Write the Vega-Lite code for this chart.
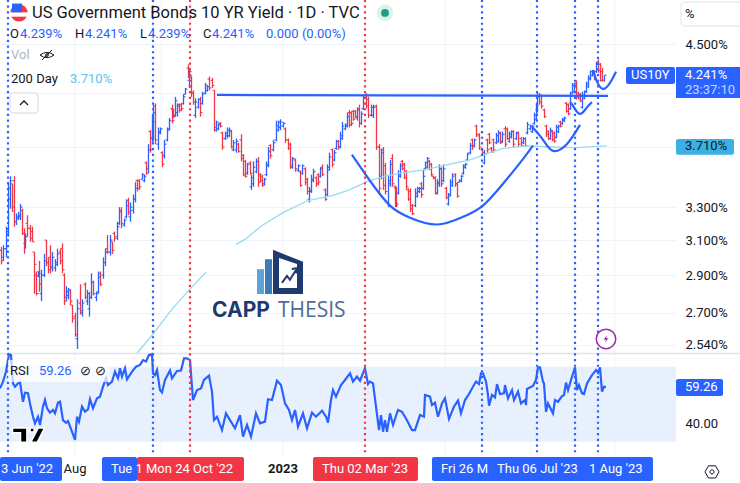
{
"$schema":"https://vega.github.io/schema/vega-lite/v6.json",
"description":"US Government Bonds 10 YR Yield daily bars with 200 day average and RSI",
"width":676,"height":483,"autosize":"none","padding":{"left":0,"top":0,"right":64,"bottom":0},"background":"white",
"config":{"view":{"stroke":null},"font":"Roboto"},
"encoding":{"x":{"field":"b","type":"quantitative","scale":{"domain":[0,676],"nice":false,"zero":false},"axis":null}},
"datasets":{
"bars":[
{"b":1,"o":3.04,"h":3.06,"l":2.96,"c":2.98},{"b":3,"o":3.0,"h":3.07,"l":2.98,"c":3.05},{"b":6,"o":3.05,"h":3.18,"l":3.0,"c":3.15},{"b":8,"o":3.15,"h":3.46,"l":3.12,"c":3.42},{"b":10,"o":3.35,"h":3.5,"l":3.29,"c":3.47},{"b":12,"o":3.45,"h":3.45,"l":3.27,"c":3.3},{"b":14,"o":3.47,"h":3.5,"l":3.18,"c":3.21},{"b":16,"o":3.21,"h":3.26,"l":3.19,"c":3.24},{"b":18,"o":3.23,"h":3.27,"l":3.22,"c":3.25},{"b":20,"o":3.24,"h":3.32,"l":3.22,"c":3.3},{"b":22,"o":3.28,"h":3.29,"l":3.13,"c":3.14},{"b":24,"o":3.14,"h":3.17,"l":3.02,"c":3.1},{"b":25,"o":3.08,"h":3.14,"l":3.05,"c":3.12},{"b":27,"o":3.2,"h":3.25,"l":3.12,"c":3.17},{"b":30,"o":3.17,"h":3.19,"l":3.09,"c":3.11},{"b":32,"o":3.15,"h":3.18,"l":3.09,"c":3.09},{"b":34,"o":3.03,"h":3.03,"l":2.8,"c":2.96},{"b":36,"o":2.9,"h":2.92,"l":2.79,"c":2.8},{"b":38,"o":2.895,"h":2.92,"l":2.89,"c":2.91},{"b":39,"o":2.92,"h":2.98,"l":2.81,"c":2.85},{"b":41,"o":2.8,"h":2.93,"l":2.76,"c":2.9},{"b":44,"o":2.9,"h":3.02,"l":2.89,"c":2.98},{"b":46,"o":3.1,"h":3.1,"l":2.95,"c":2.97},{"b":48,"o":2.97,"h":3.0,"l":2.91,"c":2.93},{"b":50,"o":3.0,"h":3.07,"l":2.91,"c":2.94},{"b":52,"o":2.95,"h":3.03,"l":2.92,"c":3.0},{"b":55,"o":2.94,"h":2.99,"l":2.92,"c":2.96},{"b":57,"o":2.97,"h":3.05,"l":2.95,"c":3.02},{"b":60,"o":3.03,"h":3.05,"l":2.96,"c":2.98},{"b":62,"o":3.05,"h":3.08,"l":2.91,"c":2.93},{"b":64,"o":2.9,"h":2.91,"l":2.74,"c":2.76},{"b":66,"o":2.78,"h":2.84,"l":2.76,"c":2.81},{"b":68,"o":2.79,"h":2.83,"l":2.77,"c":2.82},{"b":70,"o":2.82,"h":2.82,"l":2.74,"c":2.76},{"b":72,"o":2.74,"h":2.74,"l":2.65,"c":2.67},{"b":75,"o":2.68,"h":2.7,"l":2.58,"c":2.59},{"b":77,"o":2.57,"h":2.77,"l":2.52,"c":2.72},{"b":80,"o":2.75,"h":2.85,"l":2.69,"c":2.71},{"b":82,"o":2.7,"h":2.77,"l":2.68,"c":2.75},{"b":85,"o":2.85,"h":2.86,"l":2.77,"c":2.78},{"b":87,"o":2.76,"h":2.82,"l":2.74,"c":2.8},{"b":89,"o":2.72,"h":2.81,"l":2.68,"c":2.78},{"b":91,"o":2.78,"h":2.91,"l":2.77,"c":2.86},{"b":93,"o":2.86,"h":2.87,"l":2.79,"c":2.8},{"b":96,"o":2.78,"h":2.81,"l":2.76,"c":2.8},{"b":98,"o":2.81,"h":2.92,"l":2.8,"c":2.89},{"b":100,"o":2.91,"h":2.92,"l":2.84,"c":2.85},{"b":103,"o":2.9,"h":3.0,"l":2.88,"c":2.97},{"b":105,"o":2.97,"h":3.05,"l":2.95,"c":3.03},{"b":107,"o":3.05,"h":3.13,"l":3.02,"c":3.03},{"b":110,"o":3.03,"h":3.13,"l":3.01,"c":3.1},{"b":112,"o":3.09,"h":3.09,"l":3.02,"c":3.04},{"b":114,"o":3.14,"h":3.15,"l":3.09,"c":3.11},{"b":117,"o":3.12,"h":3.21,"l":3.1,"c":3.18},{"b":119,"o":3.2,"h":3.3,"l":3.19,"c":3.27},{"b":121,"o":3.28,"h":3.3,"l":3.17,"c":3.2},{"b":124,"o":3.19,"h":3.23,"l":3.18,"c":3.22},{"b":126,"o":3.24,"h":3.35,"l":3.23,"c":3.31},{"b":128,"o":3.34,"h":3.36,"l":3.25,"c":3.27},{"b":130,"o":3.24,"h":3.33,"l":3.21,"c":3.3},{"b":133,"o":3.28,"h":3.38,"l":3.26,"c":3.35},{"b":135,"o":3.35,"h":3.46,"l":3.33,"c":3.42},{"b":137,"o":3.47,"h":3.48,"l":3.4,"c":3.42},{"b":139,"o":3.47,"h":3.48,"l":3.41,"c":3.43},{"b":142,"o":3.48,"h":3.52,"l":3.48,"c":3.51},{"b":144,"o":3.47,"h":3.51,"l":3.46,"c":3.5},{"b":146,"o":3.59,"h":3.6,"l":3.51,"c":3.52},{"b":148,"o":3.55,"h":3.72,"l":3.52,"c":3.68},{"b":150,"o":3.81,"h":3.82,"l":3.66,"c":3.68},{"b":152,"o":3.76,"h":3.93,"l":3.73,"c":3.88},{"b":153,"o":3.77,"h":4.01,"l":3.74,"c":3.95},{"b":155,"o":4.0,"h":4.02,"l":3.72,"c":3.75},{"b":158,"o":3.72,"h":3.84,"l":3.68,"c":3.81},{"b":160,"o":3.8,"h":3.84,"l":3.79,"c":3.83},{"b":162,"o":3.66,"h":3.67,"l":3.56,"c":3.58},{"b":164,"o":3.64,"h":3.75,"l":3.62,"c":3.72},{"b":167,"o":3.75,"h":3.84,"l":3.74,"c":3.82},{"b":169,"o":3.83,"h":3.91,"l":3.82,"c":3.89},{"b":172,"o":3.98,"h":4.01,"l":3.87,"c":3.89},{"b":173,"o":3.97,"h":3.98,"l":3.91,"c":3.92},{"b":175,"o":3.93,"h":4.07,"l":3.92,"c":4.04},{"b":177,"o":3.95,"h":4.02,"l":3.92,"c":4.0},{"b":179,"o":4.01,"h":4.02,"l":3.95,"c":3.97},{"b":181,"o":4.01,"h":4.02,"l":3.96,"c":3.98},{"b":183,"o":4.02,"h":4.09,"l":4.01,"c":4.07},{"b":185,"o":4.09,"h":4.14,"l":4.09,"c":4.13},{"b":188,"o":4.3,"h":4.33,"l":4.22,"c":4.25},{"b":189,"o":4.2,"h":4.3,"l":4.14,"c":4.27},{"b":191,"o":4.22,"h":4.24,"l":4.07,"c":4.1},{"b":193,"o":4.1,"h":4.12,"l":4.01,"c":4.03},{"b":195,"o":3.93,"h":4.06,"l":3.91,"c":4.03},{"b":198,"o":3.99,"h":4.06,"l":3.98,"c":4.05},{"b":200,"o":4.05,"h":4.07,"l":3.92,"c":3.95},{"b":202,"o":4.02,"h":4.11,"l":4.01,"c":4.09},{"b":205,"o":4.1,"h":4.18,"l":4.09,"c":4.16},{"b":207,"o":4.12,"h":4.16,"l":4.11,"c":4.15},{"b":209,"o":4.21,"h":4.23,"l":4.12,"c":4.14},{"b":212,"o":4.2,"h":4.22,"l":4.14,"c":4.16},{"b":214,"o":4.12,"h":4.12,"l":3.81,"c":3.84},{"b":216,"o":3.82,"h":3.89,"l":3.81,"c":3.88},{"b":218,"o":3.83,"h":3.87,"l":3.82,"c":3.86},{"b":220,"o":3.87,"h":3.88,"l":3.84,"c":3.85},{"b":222,"o":3.8,"h":3.81,"l":3.68,"c":3.7},{"b":225,"o":3.76,"h":3.81,"l":3.75,"c":3.8},{"b":227,"o":3.78,"h":3.84,"l":3.76,"c":3.82},{"b":229,"o":3.78,"h":3.84,"l":3.77,"c":3.82},{"b":231,"o":3.81,"h":3.82,"l":3.69,"c":3.7},{"b":233,"o":3.68,"h":3.75,"l":3.67,"c":3.73},{"b":236,"o":3.68,"h":3.76,"l":3.66,"c":3.74},{"b":238,"o":3.72,"h":3.73,"l":3.66,"c":3.67},{"b":241,"o":3.75,"h":3.79,"l":3.6,"c":3.62},{"b":243,"o":3.64,"h":3.65,"l":3.5,"c":3.51},{"b":245,"o":3.6,"h":3.61,"l":3.49,"c":3.5},{"b":247,"o":3.52,"h":3.59,"l":3.51,"c":3.58},{"b":250,"o":3.59,"h":3.6,"l":3.51,"c":3.52},{"b":251,"o":3.43,"h":3.51,"l":3.41,"c":3.49},{"b":253,"o":3.45,"h":3.6,"l":3.43,"c":3.56},{"b":256,"o":3.53,"h":3.62,"l":3.52,"c":3.6},{"b":258,"o":3.6,"h":3.63,"l":3.43,"c":3.46},{"b":260,"o":3.51,"h":3.52,"l":3.46,"c":3.47},{"b":262,"o":3.5,"h":3.51,"l":3.43,"c":3.44},{"b":264,"o":3.45,"h":3.49,"l":3.44,"c":3.48},{"b":266,"o":3.51,"h":3.6,"l":3.5,"c":3.58},{"b":268,"o":3.57,"h":3.7,"l":3.56,"c":3.67},{"b":270,"o":3.71,"h":3.72,"l":3.62,"c":3.64},{"b":273,"o":3.68,"h":3.75,"l":3.67,"c":3.73},{"b":276,"o":3.75,"h":3.89,"l":3.74,"c":3.85},{"b":278,"o":3.82,"h":3.89,"l":3.81,"c":3.88},{"b":280,"o":3.84,"h":3.9,"l":3.82,"c":3.88},{"b":283,"o":3.85,"h":3.88,"l":3.84,"c":3.87},{"b":285,"o":3.83,"h":3.84,"l":3.73,"c":3.75},{"b":288,"o":3.75,"h":3.76,"l":3.68,"c":3.69},{"b":290,"o":3.72,"h":3.73,"l":3.55,"c":3.57},{"b":292,"o":3.56,"h":3.63,"l":3.55,"c":3.62},{"b":295,"o":3.61,"h":3.62,"l":3.53,"c":3.55},{"b":298,"o":3.54,"h":3.58,"l":3.53,"c":3.57},{"b":300,"o":3.53,"h":3.54,"l":3.43,"c":3.44},{"b":302,"o":3.52,"h":3.58,"l":3.51,"c":3.57},{"b":305,"o":3.55,"h":3.56,"l":3.44,"c":3.46},{"b":307,"o":3.48,"h":3.49,"l":3.38,"c":3.4},{"b":309,"o":3.35,"h":3.43,"l":3.33,"c":3.41},{"b":311,"o":3.4,"h":3.51,"l":3.39,"c":3.48},{"b":313,"o":3.47,"h":3.55,"l":3.46,"c":3.53},{"b":316,"o":3.49,"h":3.5,"l":3.43,"c":3.45},{"b":318,"o":3.51,"h":3.52,"l":3.44,"c":3.46},{"b":320,"o":3.5,"h":3.56,"l":3.49,"c":3.55},{"b":322,"o":3.56,"h":3.58,"l":3.5,"c":3.51},{"b":325,"o":3.41,"h":3.42,"l":3.34,"c":3.35},{"b":327,"o":3.38,"h":3.58,"l":3.37,"c":3.54},{"b":329,"o":3.56,"h":3.66,"l":3.54,"c":3.63},{"b":332,"o":3.68,"h":3.69,"l":3.56,"c":3.58},{"b":334,"o":3.61,"h":3.68,"l":3.6,"c":3.66},{"b":336,"o":3.69,"h":3.75,"l":3.68,"c":3.74},{"b":338,"o":3.74,"h":3.75,"l":3.68,"c":3.7},{"b":340,"o":3.7,"h":3.81,"l":3.69,"c":3.78},{"b":342,"o":3.76,"h":3.88,"l":3.75,"c":3.85},{"b":345,"o":3.83,"h":3.87,"l":3.82,"c":3.86},{"b":347,"o":3.85,"h":3.95,"l":3.84,"c":3.92},{"b":349,"o":3.95,"h":3.97,"l":3.84,"c":3.86},{"b":351,"o":3.95,"h":3.96,"l":3.85,"c":3.87},{"b":353,"o":3.96,"h":3.97,"l":3.89,"c":3.9},{"b":355,"o":3.96,"h":3.97,"l":3.91,"c":3.92},{"b":357,"o":3.91,"h":3.99,"l":3.89,"c":3.97},{"b":359,"o":3.98,"h":4.01,"l":3.84,"c":3.87},{"b":361,"o":3.87,"h":3.96,"l":3.86,"c":3.94},{"b":363,"o":3.98,"h":4.09,"l":3.97,"c":4.06},{"b":366,"o":4.08,"h":4.1,"l":3.98,"c":4.0},{"b":368,"o":4.05,"h":4.07,"l":3.91,"c":3.93},{"b":371,"o":3.93,"h":4.01,"l":3.92,"c":3.99},{"b":373,"o":3.93,"h":4.01,"l":3.91,"c":3.99},{"b":376,"o":4.0,"h":4.01,"l":3.68,"c":3.7},{"b":379,"o":3.7,"h":3.72,"l":3.39,"c":3.42},{"b":381,"o":3.5,"h":3.69,"l":3.48,"c":3.66},{"b":383,"o":3.68,"h":3.7,"l":3.41,"c":3.44},{"b":385,"o":3.57,"h":3.59,"l":3.38,"c":3.4},{"b":388,"o":3.33,"h":3.51,"l":3.3,"c":3.47},{"b":390,"o":3.45,"h":3.61,"l":3.43,"c":3.58},{"b":392,"o":3.62,"h":3.65,"l":3.43,"c":3.45},{"b":395,"o":3.43,"h":3.44,"l":3.3,"c":3.31},{"b":396,"o":3.42,"h":3.43,"l":3.3,"c":3.32},{"b":398,"o":3.39,"h":3.54,"l":3.38,"c":3.51},{"b":400,"o":3.5,"h":3.59,"l":3.49,"c":3.57},{"b":402,"o":3.6,"h":3.61,"l":3.54,"c":3.55},{"b":404,"o":3.58,"h":3.59,"l":3.48,"c":3.49},{"b":406,"o":3.53,"h":3.54,"l":3.41,"c":3.43},{"b":408,"o":3.41,"h":3.42,"l":3.34,"c":3.35},{"b":410,"o":3.4,"h":3.42,"l":3.27,"c":3.29},{"b":412,"o":3.31,"h":3.32,"l":3.25,"c":3.26},{"b":415,"o":3.31,"h":3.42,"l":3.3,"c":3.39},{"b":417,"o":3.37,"h":3.43,"l":3.36,"c":3.42},{"b":419,"o":3.4,"h":3.43,"l":3.39,"c":3.42},{"b":421,"o":3.45,"h":3.46,"l":3.36,"c":3.38},{"b":423,"o":3.42,"h":3.54,"l":3.41,"c":3.5},{"b":425,"o":3.55,"h":3.6,"l":3.54,"c":3.59},{"b":427,"o":3.56,"h":3.63,"l":3.55,"c":3.62},{"b":429,"o":3.6,"h":3.61,"l":3.54,"c":3.55},{"b":431,"o":3.58,"h":3.59,"l":3.5,"c":3.51},{"b":433,"o":3.5,"h":3.5,"l":3.48,"c":3.49},{"b":435,"o":3.49,"h":3.5,"l":3.38,"c":3.39},{"b":437,"o":3.39,"h":3.48,"l":3.38,"c":3.46},{"b":439,"o":3.45,"h":3.58,"l":3.43,"c":3.55},{"b":441,"o":3.55,"h":3.56,"l":3.43,"c":3.45},{"b":443,"o":3.47,"h":3.58,"l":3.46,"c":3.55},{"b":446,"o":3.42,"h":3.43,"l":3.35,"c":3.36},{"b":448,"o":3.32,"h":3.39,"l":3.31,"c":3.37},{"b":450,"o":3.38,"h":3.48,"l":3.37,"c":3.46},{"b":452,"o":3.44,"h":3.52,"l":3.43,"c":3.5},{"b":455,"o":3.51,"h":3.52,"l":3.43,"c":3.45},{"b":457,"o":3.45,"h":3.46,"l":3.36,"c":3.37},{"b":459,"o":3.46,"h":3.48,"l":3.46,"c":3.47},{"b":461,"o":3.47,"h":3.51,"l":3.46,"c":3.5},{"b":463,"o":3.52,"h":3.58,"l":3.51,"c":3.57},{"b":465,"o":3.56,"h":3.59,"l":3.55,"c":3.58},{"b":467,"o":3.61,"h":3.66,"l":3.6,"c":3.65},{"b":470,"o":3.66,"h":3.73,"l":3.65,"c":3.71},{"b":472,"o":3.75,"h":3.76,"l":3.68,"c":3.7},{"b":474,"o":3.71,"h":3.76,"l":3.7,"c":3.75},{"b":476,"o":3.85,"h":3.86,"l":3.77,"c":3.79},{"b":479,"o":3.78,"h":3.8,"l":3.68,"c":3.7},{"b":482,"o":3.68,"h":3.69,"l":3.65,"c":3.66},{"b":484,"o":3.59,"h":3.68,"l":3.58,"c":3.65},{"b":487,"o":3.75,"h":3.76,"l":3.66,"c":3.68},{"b":489,"o":3.79,"h":3.8,"l":3.72,"c":3.73},{"b":491,"o":3.69,"h":3.7,"l":3.66,"c":3.67},{"b":493,"o":3.75,"h":3.76,"l":3.66,"c":3.68},{"b":496,"o":3.73,"h":3.8,"l":3.72,"c":3.78},{"b":498,"o":3.74,"h":3.82,"l":3.73,"c":3.8},{"b":500,"o":3.8,"h":3.81,"l":3.72,"c":3.73},{"b":502,"o":3.74,"h":3.81,"l":3.73,"c":3.79},{"b":505,"o":3.83,"h":3.85,"l":3.7,"c":3.72},{"b":507,"o":3.83,"h":3.84,"l":3.75,"c":3.76},{"b":509,"o":3.74,"h":3.81,"l":3.73,"c":3.79},{"b":511,"o":3.77,"h":3.82,"l":3.76,"c":3.81},{"b":513,"o":3.81,"h":3.82,"l":3.7,"c":3.72},{"b":516,"o":3.76,"h":3.81,"l":3.75,"c":3.8},{"b":518,"o":3.8,"h":3.81,"l":3.7,"c":3.72},{"b":521,"o":3.76,"h":3.77,"l":3.7,"c":3.71},{"b":523,"o":3.73,"h":3.77,"l":3.72,"c":3.76},{"b":525,"o":3.76,"h":3.77,"l":3.7,"c":3.71},{"b":527,"o":3.8,"h":3.88,"l":3.79,"c":3.86},{"b":530,"o":3.83,"h":3.86,"l":3.82,"c":3.85},{"b":532,"o":3.81,"h":3.86,"l":3.8,"c":3.85},{"b":534,"o":3.87,"h":3.95,"l":3.86,"c":3.93},{"b":536,"o":3.9,"h":4.02,"l":3.89,"c":4.0},{"b":537,"o":3.97,"h":4.1,"l":3.95,"c":4.07},{"b":539,"o":4.08,"h":4.1,"l":4.01,"c":4.03},{"b":541,"o":4.08,"h":4.09,"l":3.98,"c":4.0},{"b":544,"o":3.97,"h":3.98,"l":3.91,"c":3.92},{"b":546,"o":3.85,"h":3.86,"l":3.77,"c":3.79},{"b":548,"o":3.81,"h":3.82,"l":3.75,"c":3.76},{"b":550,"o":3.76,"h":3.84,"l":3.75,"c":3.82},{"b":552,"o":3.81,"h":3.82,"l":3.74,"c":3.75},{"b":554,"o":3.8,"h":3.81,"l":3.73,"c":3.74},{"b":556,"o":3.77,"h":3.86,"l":3.76,"c":3.84},{"b":558,"o":3.81,"h":3.86,"l":3.8,"c":3.85},{"b":560,"o":3.88,"h":3.89,"l":3.84,"c":3.85},{"b":562,"o":3.87,"h":3.91,"l":3.86,"c":3.9},{"b":564,"o":3.89,"h":3.92,"l":3.88,"c":3.91},{"b":566,"o":4.02,"h":4.03,"l":3.95,"c":3.96},{"b":568,"o":4.01,"h":4.02,"l":3.93,"c":3.94},{"b":570,"o":3.98,"h":4.11,"l":3.97,"c":4.08},{"b":572,"o":4.1,"h":4.18,"l":4.09,"c":4.16},{"b":574,"o":4.11,"h":4.18,"l":4.1,"c":4.17},{"b":576,"o":4.18,"h":4.2,"l":4.05,"c":4.07},{"b":578,"o":4.1,"h":4.11,"l":4.05,"c":4.06},{"b":580,"o":4.09,"h":4.1,"l":4.03,"c":4.04},{"b":582,"o":3.99,"h":4.11,"l":3.98,"c":4.08},{"b":584,"o":4.06,"h":4.12,"l":4.05,"c":4.11},{"b":586,"o":4.11,"h":4.19,"l":4.1,"c":4.17},{"b":588,"o":4.15,"h":4.24,"l":4.14,"c":4.22},{"b":590,"o":4.21,"h":4.28,"l":4.2,"c":4.27},{"b":592,"o":4.24,"h":4.28,"l":4.23,"c":4.27},{"b":594,"o":4.27,"h":4.28,"l":4.2,"c":4.22},{"b":596,"o":4.27,"h":4.35,"l":4.26,"c":4.33},{"b":598,"o":4.35,"h":4.37,"l":4.26,"c":4.28},{"b":600,"o":4.33,"h":4.34,"l":4.19,"c":4.2},{"b":602,"o":4.27,"h":4.3,"l":4.19,"c":4.2},{"b":604,"o":4.2,"h":4.241,"l":4.19,"c":4.241}
],
"sma":[{"b":137,"v":2.5},{"b":153,"v":2.593},{"b":172,"v":2.719},{"b":190,"v":2.824},{"b":206,"v":2.916},{"b":220,"v":null},{"b":236,"v":3.075},{"b":245,"v":3.104},{"b":262,"v":3.187},{"b":283,"v":3.266},{"b":308,"v":3.342},{"b":333,"v":3.375},{"b":350,"v":3.412},{"b":367,"v":3.464},{"b":385,"v":3.5},{"b":403,"v":3.523},{"b":425,"v":3.544},{"b":443,"v":3.571},{"b":470,"v":3.611},{"b":490,"v":3.66},{"b":503,"v":3.69},{"b":527,"v":3.708},{"b":553,"v":3.7},{"b":577,"v":3.695},{"b":607,"v":3.708}],
"cups":[{"s":"neck","b":217,"v":4.085},{"s":"neck","b":608,"v":4.077},
{"s":"a","b":352,"v":3.646},{"s":"a","b":370,"v":3.47},{"s":"a","b":390,"v":3.31},{"s":"a","b":410,"v":3.235},{"s":"a","b":437,"v":3.193},{"s":"a","b":463,"v":3.24},{"s":"a","b":483,"v":3.31},{"s":"a","b":503,"v":3.45},{"s":"a","b":520,"v":3.59},{"s":"a","b":533,"v":3.71},
{"s":"b","b":532,"v":3.845},{"s":"b","b":543,"v":3.751},{"s":"b","b":553,"v":3.673},{"s":"b","b":567,"v":3.722},{"s":"b","b":580,"v":3.859},
{"s":"c","b":570,"v":4.03},{"s":"c","b":574,"v":3.99},{"s":"c","b":580,"v":3.94},{"s":"c","b":587,"v":3.99},{"s":"c","b":592,"v":4.03},
{"s":"d","b":593,"v":4.283},{"s":"d","b":597,"v":4.19},{"s":"d","b":603,"v":4.132},{"s":"d","b":610,"v":4.18},{"s":"d","b":616,"v":4.27}],
"rsi":[{"b":0,"r":58.5},{"b":3,"r":62.1},{"b":6,"r":67.4},{"b":9,"r":76.7},{"b":11,"r":76.3},{"b":13,"r":61.2},{"b":15,"r":59.4},{"b":18,"r":61.2},{"b":20,"r":61.7},{"b":23,"r":51.4},{"b":25,"r":56.2},{"b":28,"r":55.9},{"b":30,"r":50.5},{"b":33,"r":43.4},{"b":35,"r":39.9},{"b":38,"r":43.4},{"b":40,"r":39},{"b":43,"r":48.8},{"b":45,"r":52.3},{"b":47,"r":47.9},{"b":50,"r":45.6},{"b":53,"r":47},{"b":55,"r":45.2},{"b":58,"r":50.9},{"b":60,"r":51.4},{"b":63,"r":41.6},{"b":66,"r":40.2},{"b":68,"r":41.1},{"b":72,"r":35.4},{"b":75,"r":31},{"b":77,"r":43.4},{"b":79,"r":40.8},{"b":82,"r":48.8},{"b":85,"r":46.1},{"b":88,"r":47.3},{"b":90,"r":52.8},{"b":93,"r":47.9},{"b":97,"r":53.2},{"b":100,"r":54.1},{"b":103,"r":59.4},{"b":106,"r":63.9},{"b":108,"r":60.3},{"b":112,"r":62.1},{"b":115,"r":67.4},{"b":118,"r":63.9},{"b":120,"r":69.2},{"b":122,"r":64.8},{"b":125,"r":69.2},{"b":127,"r":63.3},{"b":132,"r":67.4},{"b":136,"r":70.1},{"b":140,"r":71},{"b":143,"r":73.6},{"b":146,"r":72.8},{"b":149,"r":76.3},{"b":152,"r":76.7},{"b":153,"r":66.5},{"b":155,"r":65.6},{"b":157,"r":68.3},{"b":160,"r":57.6},{"b":162,"r":56.4},{"b":165,"r":63},{"b":170,"r":68},{"b":172,"r":63.9},{"b":177,"r":67.8},{"b":181,"r":68},{"b":184,"r":74.5},{"b":187,"r":74.5},{"b":190,"r":73.6},{"b":193,"r":52.3},{"b":197,"r":57.6},{"b":201,"r":58.5},{"b":204,"r":63},{"b":209,"r":65.3},{"b":212,"r":56.8},{"b":214,"r":41.6},{"b":217,"r":43.4},{"b":222,"r":36.3},{"b":226,"r":45.2},{"b":230,"r":41.6},{"b":235,"r":37.2},{"b":240,"r":44.3},{"b":243,"r":32.8},{"b":247,"r":39},{"b":251,"r":32.8},{"b":256,"r":45.2},{"b":260,"r":39.9},{"b":265,"r":40.8},{"b":268,"r":52.7},{"b":272,"r":52.3},{"b":277,"r":62.6},{"b":281,"r":60.3},{"b":285,"r":50.5},{"b":289,"r":47},{"b":292,"r":41.6},{"b":295,"r":47},{"b":298,"r":38.1},{"b":303,"r":45.2},{"b":307,"r":37.2},{"b":312,"r":45.6},{"b":316,"r":43.4},{"b":322,"r":46.6},{"b":326,"r":43.4},{"b":328,"r":40.2},{"b":331,"r":52.3},{"b":333,"r":57.6},{"b":336,"r":54.1},{"b":341,"r":60.3},{"b":345,"r":63},{"b":350,"r":66.5},{"b":353,"r":62.1},{"b":357,"r":64.8},{"b":360,"r":62.6},{"b":365,"r":69.2},{"b":368,"r":60.8},{"b":370,"r":62.1},{"b":373,"r":61.2},{"b":376,"r":48.8},{"b":379,"r":36.3},{"b":381,"r":44.3},{"b":383,"r":35.4},{"b":385,"r":41.6},{"b":387,"r":35.4},{"b":390,"r":45.2},{"b":393,"r":39},{"b":398,"r":47},{"b":402,"r":46},{"b":406,"r":42.5},{"b":412,"r":36.3},{"b":415,"r":36.3},{"b":420,"r":44.3},{"b":424,"r":43.4},{"b":425,"r":55},{"b":430,"r":54.1},{"b":432,"r":49.6},{"b":435,"r":50.9},{"b":438,"r":43.4},{"b":442,"r":50.5},{"b":445,"r":53.2},{"b":449,"r":42.2},{"b":454,"r":48.8},{"b":458,"r":52},{"b":461,"r":45.2},{"b":465,"r":52.3},{"b":469,"r":55.5},{"b":473,"r":59.4},{"b":476,"r":62.1},{"b":479,"r":60.8},{"b":481,"r":66.5},{"b":483,"r":66.5},{"b":486,"r":62.1},{"b":488,"r":55},{"b":489,"r":49.3},{"b":492,"r":55},{"b":495,"r":53.7},{"b":497,"r":60.8},{"b":500,"r":55.5},{"b":504,"r":55.9},{"b":505,"r":60.3},{"b":508,"r":53.2},{"b":512,"r":57.6},{"b":514,"r":52.3},{"b":518,"r":56.8},{"b":521,"r":50.5},{"b":525,"r":52.3},{"b":526,"r":49.6},{"b":527,"r":58.2},{"b":533,"r":59.8},{"b":536,"r":63},{"b":538,"r":69.7},{"b":540,"r":69.7},{"b":543,"r":62.1},{"b":544,"r":61.2},{"b":546,"r":46},{"b":548,"r":50.5},{"b":553,"r":45.2},{"b":555,"r":52.3},{"b":558,"r":51.4},{"b":562,"r":54.4},{"b":564,"r":55},{"b":566,"r":61.6},{"b":568,"r":57.6},{"b":571,"r":63},{"b":575,"r":69.7},{"b":577,"r":57.6},{"b":579,"r":60.3},{"b":582,"r":55.9},{"b":584,"r":55.5},{"b":587,"r":61.2},{"b":592,"r":65.6},{"b":596,"r":68.3},{"b":598,"r":66.9},{"b":600,"r":69.7},{"b":602,"r":56.8},{"b":604,"r":59.4},{"b":606,"r":59.26}],
"marked":[{"b":8,"kind":"up"},{"b":153,"kind":"up"},{"b":190,"kind":"down"},{"b":365,"kind":"down"},{"b":482,"kind":"up"},{"b":537,"kind":"up"},{"b":575,"kind":"up"},{"b":598,"kind":"up"}],
"monthlines":[{"b":75},{"b":161},{"b":283},{"b":445},{"b":531},{"b":615}]
},
"resolve":{"scale":{"y":"independent"},"axis":{"y":"independent"}},
"layer":[
{"layer":[
{"data":{"name":"monthlines"},"mark":{"type":"rule","color":"#f0f3fa","strokeWidth":1},"encoding":{"y":{"datum":4.893,"type":"quantitative","scale":{"type":"log","domain":[2.501,4.893],"range":[353,0],"nice":false},"axis":{"orient":"right","title":null,"values":[2.54,2.7,2.9,3.1,3.3,3.7,4.1,4.5],"grid":true,"gridColor":"#f0f3fa","domain":false,"ticks":false,"labelPadding":9,"labelColor":"#131722","labelFontSize":13,"labelExpr":"datum.value==4.1||datum.value==3.7?'':format(datum.value,'.3f')+'%'"}},"y2":{"datum":2.06}}},
{"data":{"name":"bars"},"mark":{"type":"rule","strokeWidth":1.3,"xOffset":0.5},"encoding":{"y":{"field":"h","type":"quantitative"},"y2":{"field":"l"},"color":{"condition":{"test":"datum.c>=datum.o","value":"#2962FF"},"value":"#F23645"}}},
{"data":{"name":"bars"},"mark":{"type":"tick","orient":"horizontal","size":2,"thickness":1.1,"xOffset":-0.5,"opacity":1},"encoding":{"y":{"field":"o","type":"quantitative"},"color":{"condition":{"test":"datum.c>=datum.o","value":"#2962FF"},"value":"#F23645"}}},
{"data":{"name":"bars"},"mark":{"type":"tick","orient":"horizontal","size":2,"thickness":1.1,"xOffset":1.5,"opacity":1},"encoding":{"y":{"field":"c","type":"quantitative"},"color":{"condition":{"test":"datum.c>=datum.o","value":"#2962FF"},"value":"#F23645"}}},
{"data":{"name":"sma"},"mark":{"type":"line","color":"#9bd9f0","strokeWidth":1.3},"encoding":{"y":{"field":"v","type":"quantitative"}}},
{"data":{"name":"cups"},"mark":{"type":"line","color":"#2962FF","strokeWidth":2.2,"interpolate":"natural"},"encoding":{"y":{"field":"v","type":"quantitative"},"detail":{"field":"s"}}},
{"data":{"values":[{"p":4.241}]},"mark":{"type":"rule","color":"#2962FF","strokeWidth":1,"strokeDash":[1,2]},"encoding":{"x":{"datum":0},"x2":{"datum":676},"y":{"field":"p","type":"quantitative"}}}
]},
{"layer":[
{"data":{"values":[{"b":0,"b2":676,"u":70,"w":30}]},"mark":{"type":"rect","color":"#e8f0fe"},"encoding":{"x2":{"field":"b2"},"y":{"field":"u","type":"quantitative","scale":{"domain":[23,77.1],"range":[455,353.5],"nice":false,"zero":false},"axis":{"orient":"right","title":null,"values":[40,60],"grid":true,"gridColor":"#dfe6f5","domain":false,"ticks":false,"labelPadding":9,"labelColor":"#131722","labelFontSize":13,"labelExpr":"datum.value==40?'40.00':''"}},"y2":{"field":"w"}}},
{"data":{"values":[{"b":0,"b2":740,"u":77.1}]},"mark":{"type":"rule","color":"#e0e3eb","strokeWidth":1.5},"encoding":{"x2":{"field":"b2"},"y":{"field":"u","type":"quantitative"}}},
{"data":{"values":[{"u":70}]},"mark":{"type":"rule","color":"#F23645","strokeWidth":1,"strokeDash":[5,3]},"encoding":{"x":{"datum":0},"x2":{"datum":676},"y":{"field":"u","type":"quantitative"}}},
{"data":{"values":[{"u":50}]},"mark":{"type":"rule","color":"#b2b5be","strokeWidth":1,"strokeDash":[5,3]},"encoding":{"x":{"datum":0},"x2":{"datum":676},"y":{"field":"u","type":"quantitative"}}},
{"data":{"values":[{"u":30}]},"mark":{"type":"rule","color":"#2962FF","strokeWidth":1,"strokeDash":[5,3]},"encoding":{"x":{"datum":0},"x2":{"datum":676},"y":{"field":"u","type":"quantitative"}}},
{"data":{"name":"rsi"},"mark":{"type":"line","color":"#2962FF","strokeWidth":2.2},"encoding":{"y":{"field":"r","type":"quantitative"}}},
{"data":{"name":"marked"},"mark":{"type":"rule","strokeWidth":2.2,"strokeDash":[2.2,3.5]},"encoding":{"y":{"datum":265.6,"type":"quantitative"},"y2":{"datum":23},"color":{"field":"kind","type":"nominal","scale":{"domain":["up","down"],"range":["#2962FF","#F23645"]},"legend":null}}},
{"data":{"values":[{"b":8,"b2":110,"u":73.6,"w":61.9}]},"mark":{"type":"rect","color":"white","opacity":0.7},"encoding":{"x2":{"field":"b2"},"y":{"field":"u","type":"quantitative"},"y2":{"field":"w"}}},
{"data":{"values":[{"b":28.5,"u":33.6}]},"mark":{"type":"point","shape":"M-1,-0.44 L-0.1,-0.44 L-0.1,0.44 L-0.5,0.44 L-0.5,-0.15 L-1,-0.15 Z M0.1,-0.44 L0.35,-0.44 L0.35,-0.2 L0.1,-0.2 Z M0.6,-0.44 L1,-0.44 L0.55,0.44 L0.15,0.44 Z","size":1024,"filled":true,"color":"#000000","stroke":"white","strokeWidth":1.5,"opacity":1},"encoding":{"y":{"field":"u","type":"quantitative"}}},
{"data":{"values":[{"b":0,"b2":62,"u":21.9,"w":9.1},{"b":102,"b2":137,"u":21.9,"w":9.1},{"b":432,"b2":653,"u":21.9,"w":9.1}]},"mark":{"type":"rect","color":"#2962FF","cornerRadius":2},"encoding":{"x2":{"field":"b2"},"y":{"field":"u","type":"quantitative"},"y2":{"field":"w"}}},
{"data":{"values":[{"b":137,"b2":244,"u":21.9,"w":9.1},{"b":313,"b2":418,"u":21.9,"w":9.1}]},"mark":{"type":"rect","color":"#F23645","cornerRadius":2},"encoding":{"x2":{"field":"b2"},"y":{"field":"u","type":"quantitative"},"y2":{"field":"w"}}},
{"data":{"values":[{"b":1,"u":15.5,"t":"3 Jun '22"},{"b":111,"u":15.5,"t":"Tue 1"},{"b":146,"u":15.5,"t":"Mon 24 Oct '22"},{"b":322,"u":15.5,"t":"Thu 02 Mar '23"},{"b":441,"u":15.5,"t":"Fri 26 M"},{"b":497,"u":15.5,"t":"Thu 06 Jul '23"},{"b":589,"u":15.5,"t":"1 Aug '23"}]},"mark":{"type":"text","color":"white","align":"left","baseline":"middle","fontSize":13},"encoding":{"y":{"field":"u","type":"quantitative"},"text":{"field":"t"}}},
{"data":{"values":[{"b":75,"u":15.5,"t":"Aug"}]},"mark":{"type":"text","color":"#131722","align":"center","baseline":"middle","fontSize":13},"encoding":{"y":{"field":"u","type":"quantitative"},"text":{"field":"t"}}},
{"data":{"values":[{"b":283,"u":15.5,"t":"2023"}]},"mark":{"type":"text","color":"#131722","align":"center","baseline":"middle","fontSize":13,"fontWeight":"bold"},"encoding":{"y":{"field":"u","type":"quantitative"},"text":{"field":"t"}}},
{"data":{"values":[{"b":10,"u":67.8,"t":"RSI"},{"b":80,"u":67.8,"t":"⊘"},{"b":95,"u":67.8,"t":"⊘"}]},"mark":{"type":"text","color":"#131722","align":"left","baseline":"middle","fontSize":13},"encoding":{"y":{"field":"u","type":"quantitative"},"text":{"field":"t"}}},
{"data":{"values":[{"b":39,"u":67.8,"t":"59.26"}]},"mark":{"type":"text","color":"#2962FF","align":"left","baseline":"middle","fontSize":13},"encoding":{"y":{"field":"u","type":"quantitative"},"text":{"field":"t"}}},
{"data":{"values":[{"b":676,"b2":723,"u":63.5,"w":54.4}]},"mark":{"type":"rect","color":"#2962FF","cornerRadius":2},"encoding":{"x2":{"field":"b2"},"y":{"field":"u","type":"quantitative"},"y2":{"field":"w"}}},
{"data":{"values":[{"b":685,"u":59.26,"t":"59.26"}]},"mark":{"type":"text","color":"white","align":"left","baseline":"middle","fontSize":13},"encoding":{"y":{"field":"u","type":"quantitative"},"text":{"field":"t"}}}
]},
{"layer":[
{"data":{"values":[{"b":19,"p":4.774}]},"mark":{"type":"point","filled":true,"color":"#F23645","size":300,"opacity":1},"encoding":{"y":{"field":"p","type":"quantitative","scale":{"type":"log","domain":[2.501,4.893],"range":[353,0],"nice":false},"axis":null}}},
{"data":{"values":[{"b":10,"b2":28,"p":4.78,"q":4.74}]},"mark":{"type":"rect","color":"white"},"encoding":{"x2":{"field":"b2"},"y":{"field":"p","type":"quantitative"},"y2":{"field":"q"}}},
{"data":{"values":[{"b":12,"b2":22,"p":4.86,"q":4.78}]},"mark":{"type":"rect","color":"#2962FF"},"encoding":{"x2":{"field":"b2"},"y":{"field":"p","type":"quantitative"},"y2":{"field":"q"}}},
{"data":{"values":[{"b":32,"p":4.774,"t":"US Government Bonds 10 YR Yield · 1D · TVC"}]},"mark":{"type":"text","color":"#131722","align":"left","baseline":"middle","fontSize":16.5},"encoding":{"y":{"field":"p","type":"quantitative"},"text":{"field":"t"}}},
{"data":{"values":[{"b":385,"p":4.774}]},"mark":{"type":"point","filled":true,"color":"#dcf3ec","size":280,"opacity":1},"encoding":{"y":{"field":"p","type":"quantitative"}}},
{"data":{"values":[{"b":385,"p":4.774}]},"mark":{"type":"point","filled":true,"color":"#1e9e83","size":60,"opacity":1},"encoding":{"y":{"field":"p","type":"quantitative"}}},
{"data":{"values":[{"b":10,"p":4.587,"t":"O"},{"b":75,"p":4.587,"t":"H"},{"b":140,"p":4.587,"t":"L"},{"b":203,"p":4.587,"t":"C"},{"b":11,"p":4.211,"t":"200 Day"}]},"mark":{"type":"text","color":"#131722","align":"left","baseline":"middle","fontSize":13},"encoding":{"y":{"field":"p","type":"quantitative"},"text":{"field":"t"}}},
{"data":{"values":[{"b":20,"p":4.587,"t":"4.239%"},{"b":85,"p":4.587,"t":"4.241%"},{"b":148,"p":4.587,"t":"4.239%"},{"b":212,"p":4.587,"t":"4.241%"},{"b":266,"p":4.587,"t":"0.000 (0.00%)"}]},"mark":{"type":"text","color":"#2962FF","align":"left","baseline":"middle","fontSize":13},"encoding":{"y":{"field":"p","type":"quantitative"},"text":{"field":"t"}}},
{"data":{"values":[{"b":11,"p":4.407,"t":"Vol"}]},"mark":{"type":"text","color":"#b2b5be","align":"left","baseline":"middle","fontSize":13},"encoding":{"y":{"field":"p","type":"quantitative"},"text":{"field":"t"}}},
{"data":{"values":[{"b":70,"p":4.211,"t":"3.710%"}]},"mark":{"type":"text","color":"#5cc4ee","align":"left","baseline":"middle","fontSize":13},"encoding":{"y":{"field":"p","type":"quantitative"},"text":{"field":"t"}}},
{"data":{"values":[{"b":47,"p":4.407}]},"mark":{"type":"point","shape":"M-1,0 Q0,-0.75 1,0 Q0,0.75 -1,0 Z M-0.2,0 A0.2,0.2 0 1 0 0.2,0 A0.2,0.2 0 1 0 -0.2,0 M-0.7,0.7 L0.7,-0.7","size":196,"filled":false,"color":"#131722","strokeWidth":1,"opacity":1},"encoding":{"y":{"field":"p","type":"quantitative"}}},
{"data":{"values":[{"b":10,"b2":38,"p":4.1,"q":3.947}]},"mark":{"type":"rect","fill":"white","stroke":"#d6d8e0","strokeWidth":1,"cornerRadius":3},"encoding":{"x2":{"field":"b2"},"y":{"field":"p","type":"quantitative"},"y2":{"field":"q"}}},
{"data":{"values":[{"b":24,"p":4.023}]},"mark":{"type":"point","shape":"M-1,0.5 L0,-0.5 L1,0.5","size":64,"filled":false,"color":"#131722","strokeWidth":1.3,"opacity":1},"encoding":{"y":{"field":"p","type":"quantitative"}}},
{"data":{"values":[{"b":606,"p":2.569}]},"mark":{"type":"point","filled":true,"fill":"white","stroke":"#9c27b0","strokeWidth":1.5,"size":380,"opacity":1},"encoding":{"y":{"field":"p","type":"quantitative"}}},
{"data":{"values":[{"b":606,"p":2.569}]},"mark":{"type":"point","shape":"M0.3,-1 L-0.7,0.15 L-0.05,0.15 L-0.3,1 L0.7,-0.15 L0.05,-0.15 Z","size":50,"filled":true,"color":"#9c27b0","opacity":1},"encoding":{"y":{"field":"p","type":"quantitative"}}},
{"data":{"values":[{"b":712,"p":1.995}]},"mark":{"type":"point","shape":"M-1,0 L-0.5,-0.87 L0.5,-0.87 L1,0 L0.5,0.87 L-0.5,0.87 Z M-0.3,0 A0.3,0.3 0 1 0 0.3,0 A0.3,0.3 0 1 0 -0.3,0","size":196,"filled":false,"color":"#131722","strokeWidth":1,"opacity":1},"encoding":{"y":{"field":"p","type":"quantitative"}}},
{"data":{"values":[{"b":681,"b2":745,"p":4.874,"q":4.657}]},"mark":{"type":"rect","fill":"white","stroke":"#e0e3eb","strokeWidth":1,"cornerRadius":4},"encoding":{"x2":{"field":"b2"},"y":{"field":"p","type":"quantitative"},"y2":{"field":"q"}}},
{"data":{"values":[{"b":685,"p":4.763,"t":"%"}]},"mark":{"type":"text","color":"#131722","align":"left","baseline":"middle","fontSize":13},"encoding":{"y":{"field":"p","type":"quantitative"},"text":{"field":"t"}}},
{"data":{"values":[{"b":626,"b2":675,"p":4.308,"q":4.171}]},"mark":{"type":"rect","color":"#2962FF","cornerRadius":2},"encoding":{"x2":{"field":"b2"},"y":{"field":"p","type":"quantitative"},"y2":{"field":"q"}}},
{"data":{"values":[{"b":676,"b2":740,"p":4.308,"q":4.061}]},"mark":{"type":"rect","color":"#2962FF"},"encoding":{"x2":{"field":"b2"},"y":{"field":"p","type":"quantitative"},"y2":{"field":"q"}}},
{"data":{"values":[{"b":676,"b2":734,"p":3.756,"q":3.646}]},"mark":{"type":"rect","color":"#3bb0e3","cornerRadius":2},"encoding":{"x2":{"field":"b2"},"y":{"field":"p","type":"quantitative"},"y2":{"field":"q"}}},
{"data":{"values":[{"b":631,"p":4.241,"t":"US10Y"},{"b":685,"p":4.241,"t":"4.241%"}]},"mark":{"type":"text","color":"white","align":"left","baseline":"middle","fontSize":13},"encoding":{"y":{"field":"p","type":"quantitative"},"text":{"field":"t"}}},
{"data":{"values":[{"b":685,"p":4.123,"t":"23:37:10"}]},"mark":{"type":"text","color":"#c5d5ff","align":"left","baseline":"middle","fontSize":13},"encoding":{"y":{"field":"p","type":"quantitative"},"text":{"field":"t"}}},
{"data":{"values":[{"b":685,"p":3.71,"t":"3.710%"}]},"mark":{"type":"text","color":"#131722","align":"left","baseline":"middle","fontSize":13},"encoding":{"y":{"field":"p","type":"quantitative"},"text":{"field":"t"}}},
{"data":{"values":[{"b":257,"b2":264,"p":2.933,"q":2.798}]},"mark":{"type":"rect","color":"#5ea3d6"},"encoding":{"x2":{"field":"b2"},"y":{"field":"p","type":"quantitative"},"y2":{"field":"q"}}},
{"data":{"values":[{"b":265,"b2":272,"p":2.989,"q":2.798}]},"mark":{"type":"rect","color":"#3b7bb8"},"encoding":{"x2":{"field":"b2"},"y":{"field":"p","type":"quantitative"},"y2":{"field":"q"}}},
{"data":{"values":[{"b":288,"p":2.918}]},"mark":{"type":"point","shape":"M-1,-1.47 L1,-0.67 L1,1.47 L-1,1.47 Z","size":900,"filled":true,"color":"#1f3a6e","opacity":1},"encoding":{"y":{"field":"p","type":"quantitative"}}},
{"data":{"values":[{"b":288,"p":2.918}]},"mark":{"type":"point","shape":"M-0.6,-0.93 L0.6,-0.53 L0.6,1.07 L-0.6,1.07 Z","size":900,"filled":true,"color":"white","opacity":1},"encoding":{"y":{"field":"p","type":"quantitative"}}},
{"data":{"values":[{"b":288,"p":2.918}]},"mark":{"type":"point","shape":"M-0.4,0.73 L-0.07,0.27 L0.13,0.53 L0.53,-0.13 M0.25,-0.2 L0.6,-0.25 L0.55,0.1","size":900,"filled":false,"color":"#1f3a6e","strokeWidth":2,"opacity":1},"encoding":{"y":{"field":"p","type":"quantitative"}}},
{"data":{"values":[{"b":212,"p":2.709,"t":"CAPP"}]},"mark":{"type":"text","color":"#1f3a6e","align":"left","baseline":"middle","fontSize":21,"fontWeight":"bold","font":"Inter"},"encoding":{"y":{"field":"p","type":"quantitative"},"text":{"field":"t"}}},
{"data":{"values":[{"b":278,"p":2.709,"t":"THESIS"}]},"mark":{"type":"text","color":"#4f6c96","align":"left","baseline":"middle","fontSize":21,"font":"Open Sans"},"encoding":{"y":{"field":"p","type":"quantitative"},"text":{"field":"t"}}}
]}
]
}
